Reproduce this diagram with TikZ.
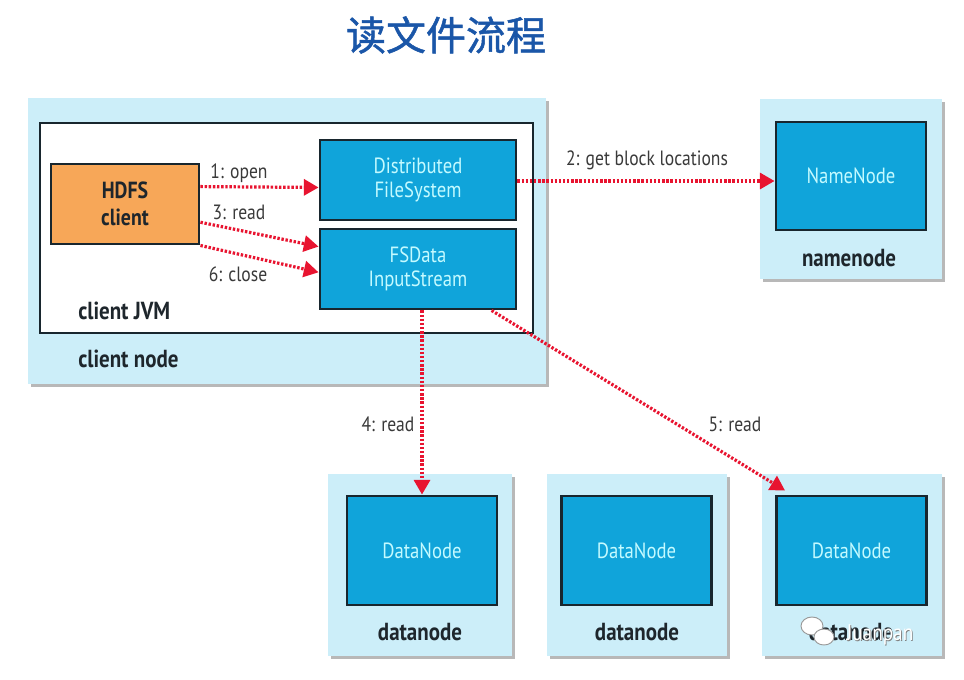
\documentclass[tikz,border=0pt]{standalone}
\usepackage{fontspec}
\setmainfont[FakeStretch=0.85]{PT Sans}
\newfontfamily\cjk[FakeBold=1.2]{Noto Sans CJK SC}
\usetikzlibrary{arrows.meta,calc,shadows}
\definecolor{lightblue}{RGB}{204,238,249}
\definecolor{boxblue}{RGB}{16,164,218}
\definecolor{boxtext}{RGB}{196,250,255}
\definecolor{orangec}{RGB}{247,167,88}
\definecolor{bordercol}{RGB}{24,38,46}
\definecolor{redc}{RGB}{232,20,48}
\definecolor{labelgray}{RGB}{58,58,58}
\definecolor{darktext}{RGB}{30,38,44}
\definecolor{titleblue}{RGB}{26,86,168}
\begin{document}
\begin{tikzpicture}[x=0.75pt,y=-0.75pt,
  outerbox/.style={fill=lightblue, draw=none, inner sep=0pt,
    drop shadow={shadow xshift=2.5pt, shadow yshift=-2.5pt, fill=black, opacity=0.28}},
  jvmbox/.style={fill=white, draw=bordercol, line width=2.2pt, inner sep=0pt},
  bluebox/.style={fill=boxblue, draw=bordercol, line width=2.2pt, inner sep=0pt,
    text=boxtext, align=center, font=\fontsize{16.5}{18}\selectfont},
  orangebox/.style={fill=orangec, draw=bordercol, line width=2.2pt, inner sep=0pt,
    text=darktext, align=center, font=\bfseries\fontsize{17.5}{20}\selectfont},
  lbl/.style={text=labelgray, inner sep=0pt, font=\fontsize{15.5}{17}\selectfont},
  blbl/.style={text=darktext, inner sep=0pt, font=\bfseries\fontsize{18.5}{20}\selectfont},
  flow/.style={draw=redc, line width=2.4pt, dash pattern=on 1.8pt off 1.3pt,
    -{Triangle[length=11pt,width=12pt,fill=redc]}}]
\useasboundingbox (0,0) rectangle (964,679);
\fill[white] (0,0) rectangle (964,679);

% title
\node[font=\cjk\fontsize{30}{32}\selectfont, text=titleblue] (title) at (446,35) {读文件流程};

% client node
\node[outerbox, minimum width=388.5pt, minimum height=214.5pt] (cnode) at (287,241) {};
\node[jvmbox, minimum width=369.75pt, minimum height=157.5pt] (jvm) at (286.5,228) {};
\node[orangebox, minimum width=111pt, minimum height=60pt] (hdfs) at (125,204) {HDFS\\client};
\node[bluebox, minimum width=147pt, minimum height=60pt] (dfs) at (418,180) {Distributed\\FileSystem};
\node[bluebox, minimum width=147pt, minimum height=60pt] (fsd) at (418,269) {FSData\\InputStream};
\node[blbl, anchor=west] (jvmlbl) at (78,311) {client JVM};
\node[blbl, anchor=west] (cnodelbl) at (78,359) {client node};

% namenode
\node[outerbox, minimum width=136.5pt, minimum height=135pt] (nnout) at (851,189) {};
\node[bluebox, minimum width=112.5pt, minimum height=81pt] (nn) at (851,176) {NameNode};
\node[blbl] (nnlbl) at (849,258) {namenode};

% datanodes
\node[outerbox, minimum width=138pt, minimum height=136.5pt] (dn1out) at (420,565) {};
\node[bluebox, minimum width=112.5pt, minimum height=81.75pt] (dn1) at (422,550.5) {DataNode};
\node[blbl] (dn1lbl) at (420,632) {datanode};
\node[outerbox, minimum width=135pt, minimum height=136.5pt] (dn2out) at (637,565) {};
\node[bluebox, minimum width=112.5pt, minimum height=81.75pt] (dn2) at (636.5,550.5) {DataNode};
\node[blbl] (dn2lbl) at (637,632) {datanode};
\node[outerbox, minimum width=135pt, minimum height=136.5pt] (dn3out) at (852,565) {};
\node[bluebox, minimum width=112.5pt, minimum height=81.75pt] (dn3) at (851.5,550.5) {DataNode};
\node[blbl] (dn3lbl) at (851,632) {datanode};

% connectors
\draw[flow] ($(hdfs.north east)!0.29!(hdfs.south east)$) -- ($(dfs.north west)!0.59!(dfs.south west)$);
\draw[flow] ($(hdfs.north east)!0.72!(hdfs.south east)$) -- ($(fsd.north west)!0.23!(fsd.south west)$);
\draw[flow] (hdfs.south east) -- ($(fsd.north west)!0.54!(fsd.south west)$);
\draw[flow] ([yshift=-0.75pt]dfs.east) -- ([yshift=-0.75pt]dfs.east -| nn.west);
\draw[flow] (dn1.north |- fsd.south) -- (dn1.north);
\draw[flow] ($(fsd.south west)!0.87!(fsd.south east)$) -- ($(dn3.north west)+(10,-4)$);

% connector labels
\node[lbl] (l1) at (239,173) {1: open};
\node[lbl] (l3) at (239,212) {3: read};
\node[lbl] (l6) at (238,274) {6: close};
\node[lbl] (l2) at (647,160) {2: get block locations};
\node[lbl] (l4) at (388,424) {4: read};
\node[lbl] (l5) at (735,424) {5: read};

% watermark
\fill[white, draw=gray!80, line width=0.7pt] (812,626) ellipse (11 and 9);
\fill[white, draw=gray!80, line width=0.7pt] (824,637) ellipse (10 and 8);
\node[font=\fontsize{17}{19}\selectfont] (wm) at (880,635)
  {\makebox[0pt][l]{\kern0.7pt\raisebox{-0.7pt}{\textcolor{gray}{Juanpan}}}\textcolor{white}{Juanpan}};
\end{tikzpicture}
\end{document}
